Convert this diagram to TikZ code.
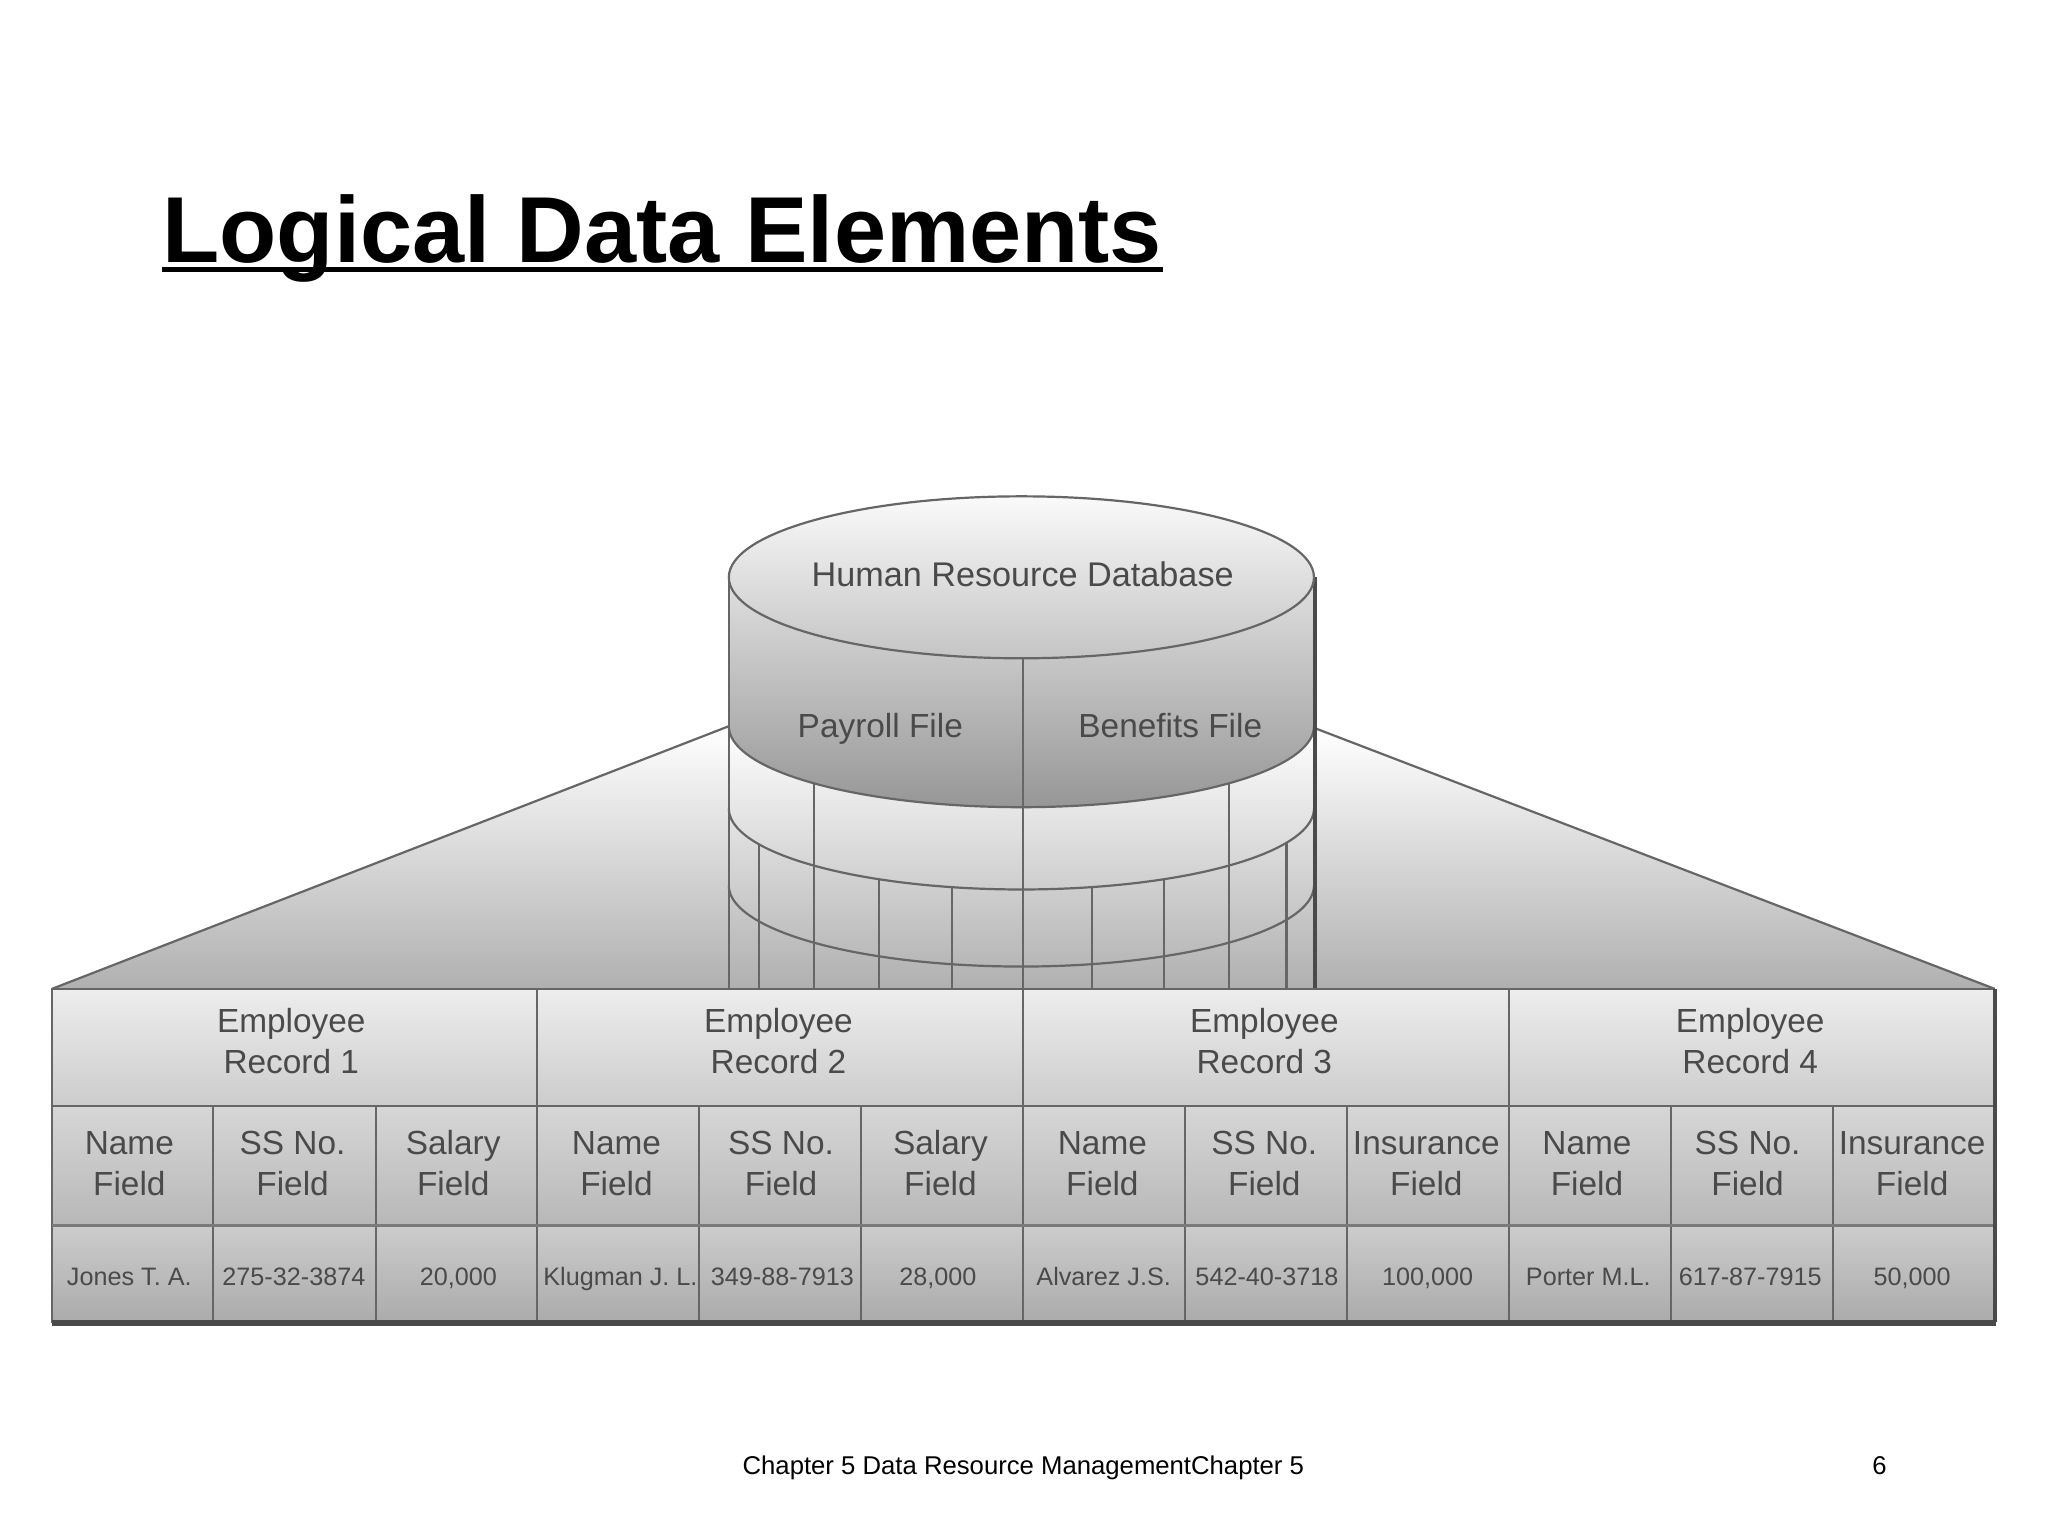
\documentclass[tikz,border=0pt]{standalone}
\usepackage{fontspec}
\setmainfont{Liberation Sans}
\usetikzlibrary{shapes.geometric}
\definecolor{inkgrey}{HTML}{4A4A4A}
\definecolor{edgegrey}{HTML}{666666}
\definecolor{darkedge}{HTML}{4A4A4A}
\tikzset{
  lab/.style={inner sep=0pt,outer sep=0pt,text=inkgrey,align=center},
  bigfont/.style={font=\fontsize{16.7}{20.3}\selectfont},
  smallfont/.style={font=\fontsize{12.6}{15}\selectfont},
  hairline/.style={draw=edgegrey,line width=1.1pt},
  arcplot/.style={variable=\t,samples=91,smooth},
  tcell/.style={draw=edgegrey,line width=1pt,inner sep=0pt,outer sep=0pt,shading=axis},
  rowa/.style={tcell,top color=white!93!black,bottom color=white!80!black,minimum height={90*0.65306pt}},
  rowb/.style={tcell,top color=white!84!black,bottom color=white!72!black,minimum height={91*0.65306pt}},
  rowc/.style={tcell,top color=white!80!black,bottom color=white!67!black,minimum height={74*0.65306pt}},
}
\begin{document}
\begin{tikzpicture}[x=0.65306pt,y=-0.65306pt]
\useasboundingbox (0,0) rectangle (1568,1176);
\fill[white] (0,0) rectangle (1568,1176);
% title
\node[anchor=base west,inner sep=0pt,font=\fontsize{46.85}{50}\selectfont\bfseries] (title) at (124,201) {Logical Data Elements};
\draw[black,line width=2.4pt] ([yshift=-3.6pt]title.base west) -- ([yshift=-3.6pt]title.base east);
% flanks
\coordinate (fl1) at (40,757); \coordinate (fl2) at (558,556); \coordinate (fl3) at (558,757);
\coordinate (fr1) at (1527,757); \coordinate (fr2) at (1008,558); \coordinate (fr3) at (1008,757);
\shade[top color=white,bottom color=white!69!black] (fl1) -- (fl2) -- (fl3) -- cycle;
\shade[top color=white,bottom color=white!69!black] (fr1) -- (fr2) -- (fr3) -- cycle;
\draw[hairline] (fl1) -- (fl2);
\draw[hairline] (fr1) -- (fr2);
% cylinder lower body
\shade[top color=white,bottom color=white!69!black] (558,556) rectangle (1006,757);
\draw[hairline] plot[arcplot,domain=180:0] ({782+224*cos(\t)},{619+62*sin(\t)});
\draw[hairline] plot[arcplot,domain=180:0] ({782+224*cos(\t)},{678+62*sin(\t)});
\draw[hairline] (558,442) -- (558,757);
\foreach \xx in {581,673,729,836,891,985}{
  \pgfmathsetmacro\yy{619+62*sqrt(1-((\xx-782)/224)^2)}
  \draw[hairline] (\xx,\yy) -- (\xx,757);
}
\foreach \xx in {623,941}{
  \pgfmathsetmacro\yy{556+62*sqrt(1-((\xx-782)/224)^2)}
  \draw[hairline] (\xx,\yy) -- (\xx,757);
}
% upper band
\shade[top color=white!88!black,bottom color=white!59!black]
  plot[arcplot,domain=180:0] ({782+224*cos(\t)},{442+62*sin(\t)})
  -- plot[arcplot,domain=0:180] ({782+224*cos(\t)},{556+62*sin(\t)}) -- cycle;
\draw[hairline] plot[arcplot,domain=180:0] ({782+224*cos(\t)},{556+62*sin(\t)});
\draw[hairline] (783,504) -- (783,757);
\draw[draw=darkedge,line width=1.8pt] (1007,442) -- (1007,757);
\draw[hairline] (558,442) -- (558,556);
% top
\node[ellipse,draw=edgegrey,line width=1.1pt,shading=axis,top color=white!98!black,bottom color=white!77!black,minimum width={448*0.65306pt},minimum height={124*0.65306pt},inner sep=0pt,outer sep=0pt] (db) at (782,442) {};
\node[lab,anchor=base,font=\fontsize{17.1}{20}\selectfont] (dbt) at (783,449) {Human Resource Database};
\node[lab,anchor=base,bigfont] (pay) at (674,565) {Payroll File};
\node[lab,anchor=base,bigfont] (ben) at (896,565) {Benefits File};
% table row 1
\foreach \i/\xa/\xb in {1/40/411,2/411/783,3/783/1155,4/1155/1527}{
  \node[rowa,minimum width={(\xb-\xa)*0.65306pt}] (rec\i) at ({(\xa+\xb)/2},802) {};
}
% table rows 2 and 3
\foreach \i/\xa/\xb in {1/40/163,2/163/288,3/288/411,4/411/535,5/535/659,6/659/783,7/783/907,8/907/1031,9/1031/1155,10/1155/1279,11/1279/1403,12/1403/1527}{
  \node[rowb,minimum width={(\xb-\xa)*0.65306pt}] (fld\i) at ({(\xa+\xb)/2},892.5) {};
  \node[rowc,minimum width={(\xb-\xa)*0.65306pt}] (val\i) at ({(\xa+\xb)/2},975) {};
}
% heavier rules
\draw[draw=white!48!black,line width=1.6pt] (fld1.south west) -- (fld12.south east);
\draw[draw=darkedge,line width=3pt] ([yshift=-0.5pt]val1.south west) -- ([xshift=0.8pt,yshift=-0.5pt]val12.south east);
\draw[draw=darkedge,line width=2pt] ([xshift=0.4pt]rec4.north east) -- ([xshift=0.4pt]val12.south east);
% record labels
\foreach \i/\xx/\lbl in {1/223/1,2/596/2,3/968/3,4/1340/4}{
  \node[lab,bigfont] (rect\i) at (\xx,800) {\strut Employee\\\strut Record \lbl};
}
% field labels
\foreach \i/\xx/\lbl in {1/99/Name,2/224/SS No.,3/347/Salary,4/472/Name,5/598/SS No.,6/720/Salary,7/844/Name,8/968/SS No.,9/1092/Insurance,10/1215/Name,11/1338/SS No.,12/1464/Insurance}{
  \node[lab,bigfont] (fldt\i) at (\xx,893.5) {\strut\lbl\\\strut Field};
}
% data labels
\foreach \i/\xx/\lbl in {1/99/Jones T. A.,2/225/275-32-3874,3/351/{20,000},4/475/Klugman J. L.,5/599/349-88-7913,6/718/{28,000},7/845/Alvarez J.S.,8/970/542-40-3718,9/1093/{100,000},10/1216/Porter M.L.,11/1340/617-87-7915,12/1464/{50,000}}{
  \node[lab,anchor=base,smallfont] (valt\i) at (\xx,984) {\lbl};
}
% footer
\node[anchor=base,inner sep=0pt,font=\fontsize{12.85}{15}\selectfont] (foot) at (783.5,1129) {Chapter 5 Data Resource ManagementChapter 5};
\node[anchor=base,inner sep=0pt,font=\fontsize{12.85}{15}\selectfont] (pg) at (1439,1129) {6};
\end{tikzpicture}
\end{document}
